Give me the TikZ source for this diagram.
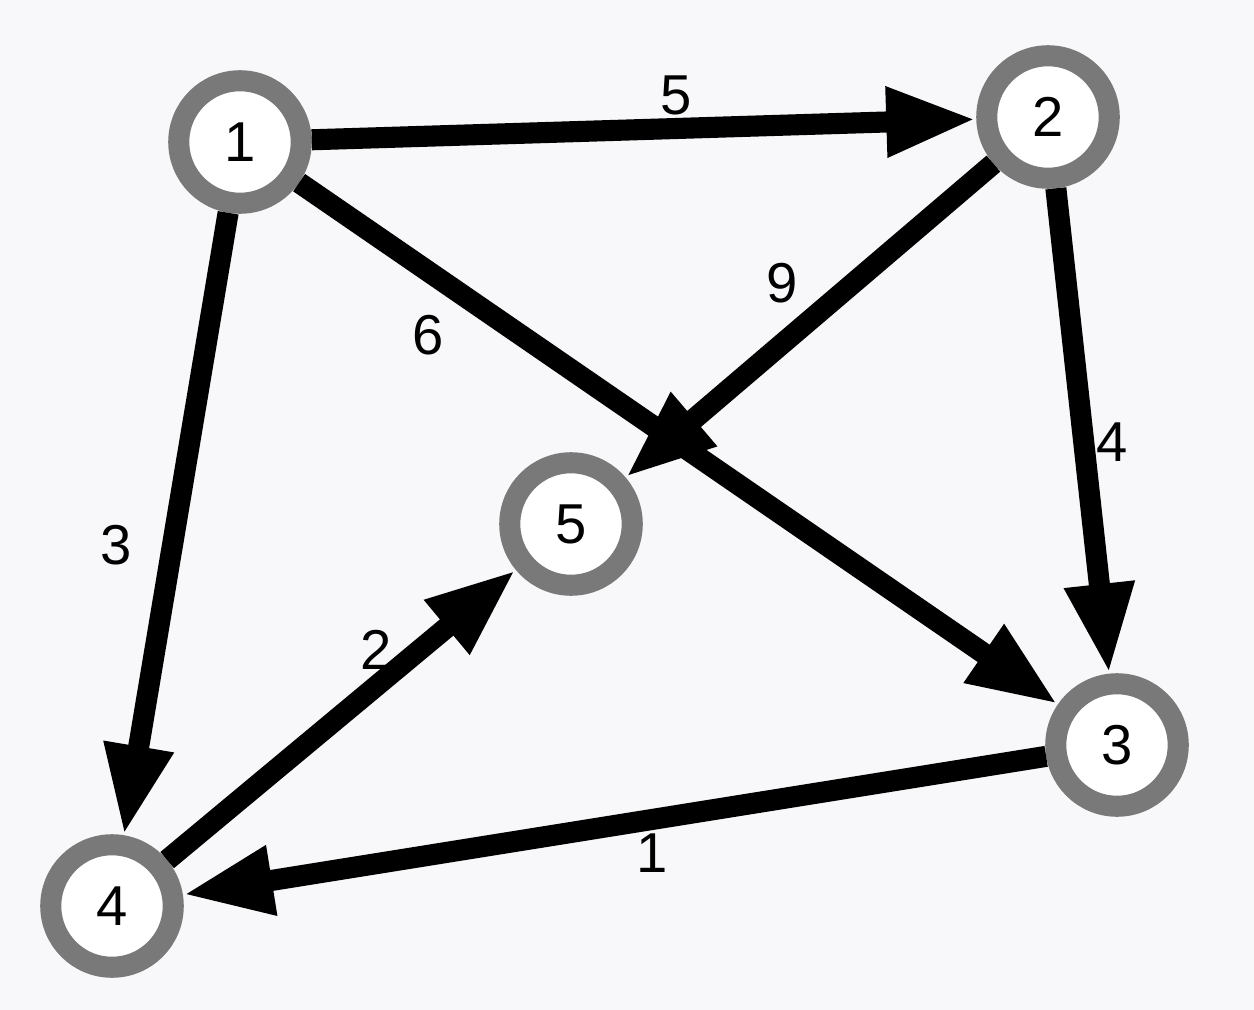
\documentclass[tikz,border=0pt]{standalone}
\usepackage{fontspec}
\setmainfont{Liberation Sans}
\usetikzlibrary{arrows.meta}
\begin{document}
\begin{tikzpicture}[x=0.02cm,y=-0.02cm,
  vert/.style={circle,draw=gray!95!black,fill=white,line width=12pt,minimum size=2.45cm,inner sep=0pt,font=\fontsize{32}{34}\selectfont},
  edge/.style={line width=12pt,-{Triangle[length=1.8cm,width=1.3cm]}},
  lab/.style={font=\fontsize{32}{34}\selectfont}]
\fill[fill={rgb,255:red,248;green,248;blue,250}] (0,0) rectangle (1254,1010);
\useasboundingbox (0,0) rectangle (1254,1010);
\node[vert] (n1) at (240,142) {1};
\node[vert] (n2) at (1048,117) {2};
\node[vert] (n3) at (1117,745) {3};
\node[vert] (n4) at (112,906) {4};
\node[vert] (n5) at (571,524) {5};
\draw[edge] (n1) -- (n2);
\draw[edge] (n1) -- (n3);
\draw[edge] (n1) -- (n4);
\draw[edge] (n2) -- (n5);
\draw[edge] (n2) -- (n3);
\draw[edge] (n3) -- (n4);
\draw[edge] (n4) -- (n5);
\node[lab] (l5) at (676,95) {5};
\node[lab] (l9) at (782,283) {9};
\node[lab] (l6) at (428,335) {6};
\node[lab] (l4) at (1112,442) {4};
\node[lab] (l3) at (116,545) {3};
\node[lab] (l2) at (376,650) {2};
\node[lab] (l1) at (652,853) {1};
\end{tikzpicture}
\end{document}
